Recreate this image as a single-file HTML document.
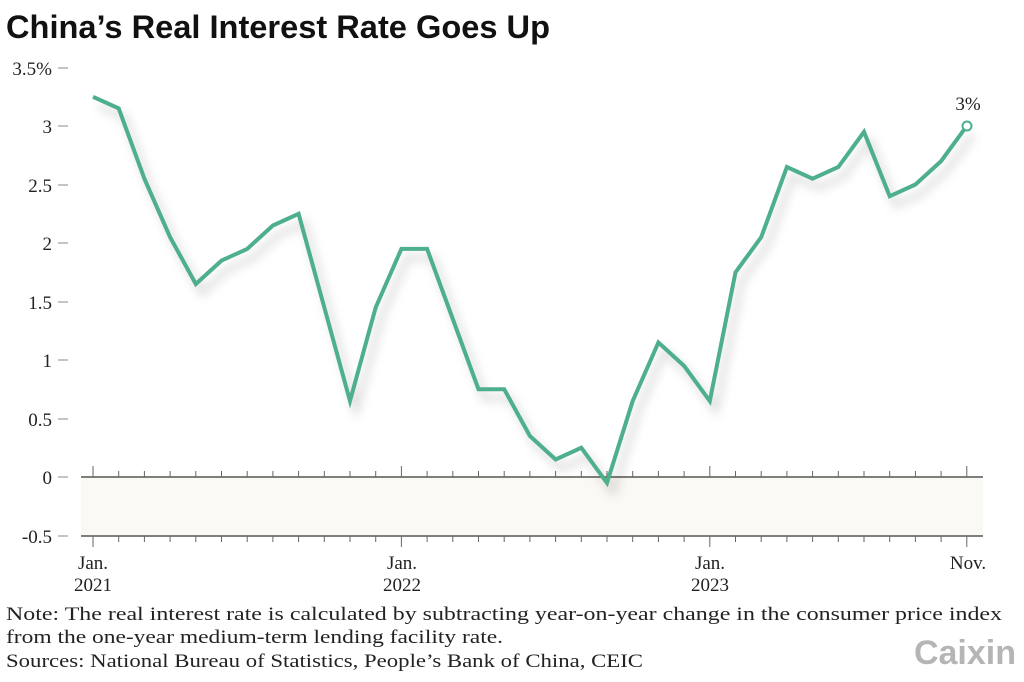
<!DOCTYPE html>
<html><head><meta charset="utf-8"><style>
html,body{margin:0;padding:0;background:#fff;width:1024px;height:682px;overflow:hidden}
</style></head><body>
<svg width="1024" height="682" viewBox="0 0 1024 682" xmlns="http://www.w3.org/2000/svg">
<defs><filter id="sh" x="-10%" y="-10%" width="120%" height="130%"><feGaussianBlur stdDeviation="5"/></filter></defs>
<text x="6" y="38" font-family="Liberation Sans, sans-serif" font-weight="bold" font-size="32" fill="#111" textLength="544" lengthAdjust="spacingAndGlyphs">China’s Real Interest Rate Goes Up</text>
<rect x="81" y="477" width="902" height="59" fill="#fbf9f3"/>
<g font-family="Liberation Serif, serif" font-size="19" fill="#222" text-anchor="end">
<text x="52" y="75">3.5%</text><text x="52" y="133">3</text><text x="52" y="192">2.5</text>
<text x="52" y="250">2</text><text x="52" y="309">1.5</text><text x="52" y="367">1</text>
<text x="52" y="426">0.5</text><text x="52" y="484">0</text><text x="52" y="543">-0.5</text>
</g>
<g stroke="#888" stroke-width="1">
<line x1="58" y1="68" x2="68" y2="68"/><line x1="58" y1="126" x2="68" y2="126"/><line x1="58" y1="185" x2="68" y2="185"/>
<line x1="58" y1="243" x2="68" y2="243"/><line x1="58" y1="302" x2="68" y2="302"/><line x1="58" y1="360" x2="68" y2="360"/>
<line x1="58" y1="419" x2="68" y2="419"/><line x1="58" y1="477" x2="68" y2="477"/><line x1="58" y1="536" x2="68" y2="536"/>
</g>
<line x1="81" y1="477" x2="983" y2="477" stroke="#555" stroke-width="1.5"/>
<line x1="81" y1="536" x2="983" y2="536" stroke="#555" stroke-width="1.5"/>
<g stroke="#666" stroke-width="1">
<path d="M93 477v-11M118.7 477v-6M144.4 477v-6M170.1 477v-6M195.8 477v-6M221.5 477v-6M247.2 477v-6M272.9 477v-6M298.6 477v-6M324.3 477v-6M350 477v-6M375.7 477v-6M401.4 477v-11M427.1 477v-6M452.8 477v-6M478.5 477v-6M504.2 477v-6M529.9 477v-6M555.6 477v-6M581.3 477v-6M607 477v-6M632.7 477v-6M658.4 477v-6M684.1 477v-6M709.8 477v-11M735.5 477v-6M761.2 477v-6M786.9 477v-6M812.6 477v-6M838.3 477v-6M864 477v-6M889.7 477v-6M915.4 477v-6M941.1 477v-6M966.8 477v-11"/>
<path d="M93 536v11M118.7 536v6M144.4 536v6M170.1 536v6M195.8 536v6M221.5 536v6M247.2 536v6M272.9 536v6M298.6 536v6M324.3 536v6M350 536v6M375.7 536v6M401.4 536v11M427.1 536v6M452.8 536v6M478.5 536v6M504.2 536v6M529.9 536v6M555.6 536v6M581.3 536v6M607 536v6M632.7 536v6M658.4 536v6M684.1 536v6M709.8 536v11M735.5 536v6M761.2 536v6M786.9 536v6M812.6 536v6M838.3 536v6M864 536v6M889.7 536v6M915.4 536v6M941.1 536v6M966.8 536v11"/>
</g>
<g font-family="Liberation Serif, serif" font-size="19" fill="#222" text-anchor="middle">
<text x="93" y="569">Jan.</text><text x="93" y="591">2021</text>
<text x="402" y="569">Jan.</text><text x="402" y="591">2022</text>
<text x="710" y="569">Jan.</text><text x="710" y="591">2023</text>
<text x="968" y="569">Nov.</text>
<text x="968" y="110">3%</text>
</g>
<polyline filter="url(#sh)" transform="translate(6,9)" fill="none" stroke="#000" stroke-opacity="0.16" stroke-width="5" points="93,96.8 118.7,108.4 144.4,178.7 170.1,237.2 195.8,284 221.5,260.6 247.2,248.9 272.9,225.5 298.6,213.8 324.3,307.4 350,401 375.7,307.4 401.4,248.9 427.1,248.9 452.8,319 478.5,389.3 504.2,389.3 529.9,436 555.6,459.5 581.3,447.8 607,482.9 632.7,401 658.4,342.5 684.1,365.9 709.8,401 735.5,272.3 761.2,237.2 786.9,167 812.6,178.7 838.3,167 864,131.9 889.7,196.2 915.4,184.5 941.1,161.1 966.8,126"/>
<polyline fill="none" stroke="#4daf8c" stroke-width="4" points="93,96.8 118.7,108.4 144.4,178.7 170.1,237.2 195.8,284 221.5,260.6 247.2,248.9 272.9,225.5 298.6,213.8 324.3,307.4 350,401 375.7,307.4 401.4,248.9 427.1,248.9 452.8,319 478.5,389.3 504.2,389.3 529.9,436 555.6,459.5 581.3,447.8 607,482.9 632.7,401 658.4,342.5 684.1,365.9 709.8,401 735.5,272.3 761.2,237.2 786.9,167 812.6,178.7 838.3,167 864,131.9 889.7,196.2 915.4,184.5 941.1,161.1 966.8,126"/>
<circle cx="967" cy="126" r="4.5" fill="#fff" stroke="#4daf8c" stroke-width="2"/>
<g font-family="Liberation Serif, serif" font-size="19" fill="#222">
<text x="6" y="620" textLength="996" lengthAdjust="spacingAndGlyphs">Note: The real interest rate is calculated by subtracting year-on-year change in the consumer price index</text>
<text x="6" y="643" textLength="497" lengthAdjust="spacingAndGlyphs">from the one-year medium-term lending facility rate.</text>
<text x="6" y="667" textLength="637" lengthAdjust="spacingAndGlyphs">Sources: National Bureau of Statistics, People’s Bank of China, CEIC</text>
</g>
<text x="1016" y="664" text-anchor="end" font-family="Liberation Sans, sans-serif" font-weight="bold" font-size="34" fill="#b5b5b5">Caixin</text>
</svg>
</body></html>
